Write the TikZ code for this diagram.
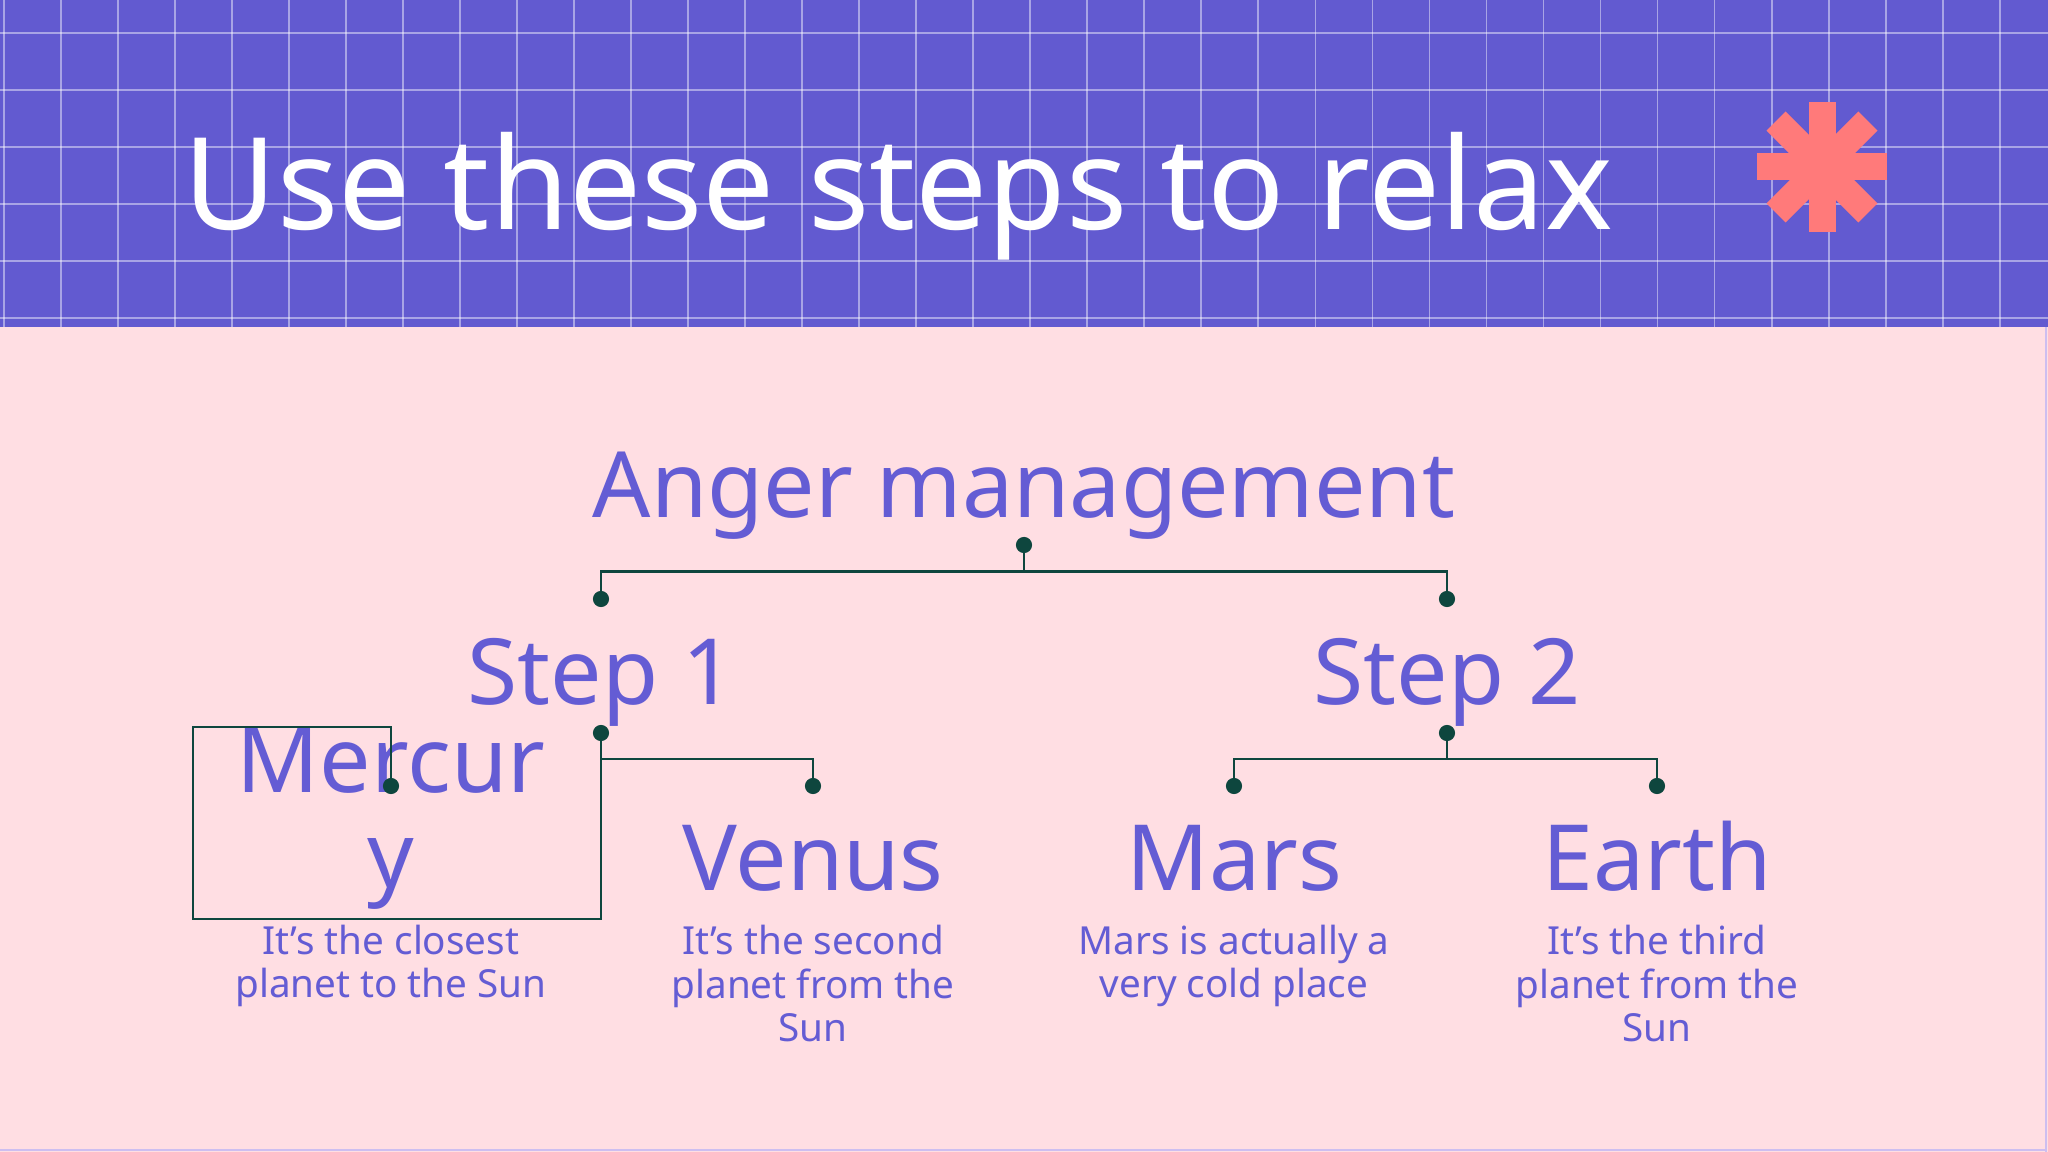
\documentclass[tikz,border=0pt]{standalone}
\usepackage{fontspec}
\setmainfont{Noto Sans}
\usepackage{tikz}
\usetikzlibrary{positioning, calc}
\definecolor{hdrblue}{RGB}{98,90,208}
\definecolor{txtblue}{RGB}{100,92,212}
\definecolor{bgpink}{RGB}{255,222,227}
\definecolor{starred}{RGB}{255,122,122}
\definecolor{linkgreen}{RGB}{14,70,62}
\definecolor{edgelav}{RGB}{205,190,240}
\tikzset{
  gridline/.style={white, opacity=0.45, line width=0.5pt},
  bigname/.style={anchor=base, inner sep=0pt, color=txtblue,
    font=\fontsize{26}{27.3}\selectfont, align=center},
  desc/.style={anchor=base, inner sep=0pt, color=txtblue,
    font=\fontsize{11}{12.4}\selectfont, align=center},
  dot/.style={circle, fill=linkgreen, inner sep=0pt, minimum size=4.6pt},
  link/.style={line width=0.8pt, color=linkgreen}
}
\begin{document}
\begin{tikzpicture}
  % background and header band
  \fill[bgpink] (0,0) rectangle (20.48,11.52);
  \useasboundingbox (0,0) rectangle (20.48,11.52);
  \fill[hdrblue] (0,8.25) rectangle (20.48,11.52);
  \draw[edgelav, line width=0.4pt] (20.46,0) -- (20.46,8.25);
  \draw[edgelav, line width=0.4pt] (0,0.02) -- (20.46,0.02);

  % grid on the header
  \foreach \i in {0,...,35}
    \draw[gridline] ({0.037+0.5703*\i},8.25) -- ++(0,3.27);
  \foreach \j in {0,...,5}
    \draw[gridline] (0,{11.187-0.57*\j}) -- ++(20.48,0);

  % asterisk
  \begin{scope}[shift={(18.22,9.85)}]
    \foreach \a in {0,45,90,135}
      \fill[starred, rotate=\a] (-0.65,-0.135) rectangle (0.65,0.135);
  \end{scope}

  % title
  \node[anchor=base west, inner sep=0pt, white,
    font=\fontsize{36.4}{40}\selectfont] (title) at (1.83,9.22) {Use these steps to relax};

  % tree (multi-line nodes sit on their last line)
  \node[bigname] (anger) at (10.24,6.34) {Anger management};
  \node[bigname] (step1) at (6.01,4.47) {Step 1};
  \node[bigname] (step2) at (14.47,4.47) {Step 2};
  \node[bigname] (mercury) at (3.91,2.64) {Mercur\\y};
  \node[bigname] (venus) at (8.13,2.61) {Venus};
  \node[bigname] (mars) at (12.34,2.61) {Mars};
  \node[bigname] (earth) at (16.57,2.61) {Earth};

  \node[desc] (mercurytxt) at (3.91,1.54) {It’s the closest\\planet to the Sun};
  \node[desc] (venustxt) at (8.13,1.10) {It’s the second\\planet from the\\Sun};
  \node[desc] (marstxt) at (12.34,1.54) {Mars is actually a\\very cold place};
  \node[desc] (earthtxt) at (16.57,1.10) {It’s the third\\planet from the\\Sun};

  % dots
  \node[dot] (angerout) at (10.24,6.07) {};
  \node[dot] (step1in) at (6.01,5.53) {};
  \node[dot] (step2in) at (14.47,5.53) {};
  \node[dot] (step1out) at (6.01,4.19) {};
  \node[dot] (step2out) at (14.47,4.19) {};
  \node[dot] (mercuryin) at (3.91,3.66) {};
  \node[dot] (venusin) at (8.13,3.66) {};
  \node[dot] (marsin) at (12.34,3.66) {};
  \node[dot] (earthin) at (16.57,3.66) {};

  % connectors
  \draw[link] (angerout.center) -- ++(0,-0.265) -| (step1in.center);
  \draw[link] (angerout.center) -- ++(0,-0.265) -| (step2in.center);
  \draw[link] (step1out.center) -- ++(0,-0.26) -| (venusin.center);
  \draw[link] (step2out.center) -- ++(0,-0.26) -| (marsin.center);
  \draw[link] (step2out.center) -- ++(0,-0.26) -| (earthin.center);
  \coordinate (boxbr) at (6.01,2.33);
  \coordinate (boxtl) at (1.93,4.25);
  \draw[link] (step1out.center) -- (boxbr) -| (boxtl) -| (mercuryin.center);
\end{tikzpicture}
\end{document}
